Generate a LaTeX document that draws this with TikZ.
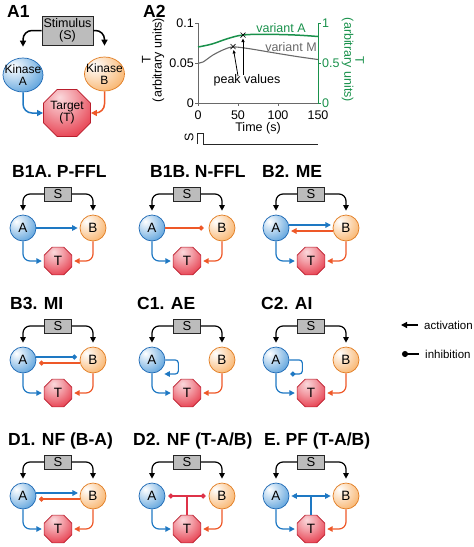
\documentclass[tikz,border=0pt]{standalone}
\usepackage{fontspec}
\setmainfont{Liberation Sans}
\usetikzlibrary{arrows.meta,shapes.geometric,calc}

\definecolor{blueA}{RGB}{45,135,210}
\definecolor{blueAedge}{RGB}{30,105,180}
\definecolor{orangeB}{RGB}{246,150,50}
\definecolor{orangeBedge}{RGB}{225,125,35}
\definecolor{redT}{RGB}{228,40,58}
\definecolor{redTedge}{RGB}{185,30,45}
\definecolor{bluearr}{RGB}{30,120,195}
\definecolor{orgarr}{RGB}{238,88,40}
\definecolor{redarr}{RGB}{222,50,72}
\definecolor{plotgreen}{RGB}{25,145,75}
\definecolor{plotgray}{RGB}{105,105,105}
\definecolor{sgray}{RGB}{188,188,188}

\pgfdeclareradialshading{shadeA}{\pgfpoint{-13bp}{13bp}}{color(0bp)=(white); color(15bp)=(blueA!30!white); color(38bp)=(blueA!78!white); color(52bp)=(blueA); color(100bp)=(blueA)}
\pgfdeclareradialshading{shadeB}{\pgfpoint{-13bp}{13bp}}{color(0bp)=(white); color(15bp)=(orangeB!28!white); color(38bp)=(orangeB!72!white); color(52bp)=(orangeB); color(100bp)=(orangeB)}
\pgfdeclareradialshading{shadeT}{\pgfpoint{-8bp}{17bp}}{color(0bp)=(redT!18!white); color(16bp)=(redT!45!white); color(36bp)=(redT!85!white); color(50bp)=(redT); color(100bp)=(redT)}

\tikzset{
  ttl/.style={font=\fontsize{17.5}{18}\selectfont\bfseries, anchor=west, inner sep=0pt},
  sbox/.style={rectangle, draw=black!85, fill=sgray, line width=0.8pt, minimum width=27pt, minimum height=14pt, inner sep=0pt, font=\fontsize{13}{13}\selectfont},
  nA/.style={circle, draw=blueAedge, line width=0.7pt, shading=shadeA, minimum size=26pt, inner sep=0pt, font=\fontsize{13.5}{13}\selectfont},
  nB/.style={circle, draw=orangeBedge, line width=0.7pt, shading=shadeB, minimum size=26pt, inner sep=0pt, font=\fontsize{13.5}{13}\selectfont},
  nT/.style={regular polygon, regular polygon sides=8, draw=redTedge, line width=0.7pt, shading=shadeT, minimum size=30pt, inner sep=0pt, font=\fontsize{13.5}{13}\selectfont},
  tipA/.style={-{Triangle[length=5.5pt,width=5.5pt]}},
  tipI/.style={-{Circle[length=5pt]}},
  sconn/.style={draw=black, line width=1.2pt, rounded corners=7pt, tipA, shorten >=4pt},
  aconn/.style={draw=bluearr, line width=1.2pt, rounded corners=7pt, tipA, shorten >=2pt},
  bconn/.style={draw=orgarr, line width=1.2pt, rounded corners=7pt, tipA, shorten >=2pt},
  inhblue/.style={draw=bluearr, line width=1.2pt, tipI, shorten >=3pt},
  inhorg/.style={draw=orgarr, line width=1.2pt, tipI, shorten >=3pt},
  kbox/.style={rectangle, draw=black!85, fill=sgray, line width=0.9pt, minimum width=51pt, minimum height=29pt, inner sep=0pt, align=center, font=\fontsize{12.5}{12}\selectfont},
  kinA/.style={ellipse, draw=blueAedge, line width=0.7pt, shading=shadeA, minimum width=40pt, minimum height=34pt, inner xsep=-5pt, inner ysep=0pt, align=center, font=\fontsize{12}{12}\selectfont},
  kinB/.style={kinA, draw=orangeBedge, shading=shadeB},
  targ/.style={regular polygon, regular polygon sides=8, draw=redTedge, line width=0.7pt, shading=shadeT, minimum size=46pt, inner sep=0pt, align=center, font=\fontsize{12}{12}\selectfont},
  bigS/.style={draw=black, line width=1.5pt, rounded corners=9pt, -{Triangle[length=6pt,width=6pt]}, shorten >=11pt},
  bigA/.style={draw=bluearr, line width=1.5pt, rounded corners=9pt, -{Triangle[length=6pt,width=6pt]}},
  bigB/.style={draw=orgarr, line width=1.5pt, rounded corners=9pt, -{Triangle[length=6pt,width=6pt]}},
  tick/.style={font=\fontsize{12.5}{12}\selectfont, inner sep=0pt},
  axlab/.style={font=\fontsize{12.5}{11}\selectfont, align=center, inner sep=0pt},
  legtxt/.style={font=\fontsize{11.5}{12}\selectfont, anchor=west, inner sep=0pt},
}

\newcommand{\motif}[3]{%
  \node[sbox] (#1S) at (#2,#3-34) {S};
  \node[nA] (#1A) at (#2-35,#3) {A};
  \node[nB] (#1B) at (#2+35,#3) {B};
  \node[nT] (#1T) at (#2,#3+33) {T};
  \draw[sconn] (#1S.west) -| (#1A.north);
  \draw[sconn] (#1S.east) -| (#1B.north);
  \draw[aconn] (#1A.south) |- (#1T.west);
  \draw[bconn] (#1B.south) |- (#1T.east);
}

\begin{document}
\begin{tikzpicture}[x=1pt,y=-1pt]
\useasboundingbox (0,0) rectangle (474,547);

% ---------- A1 ----------
\node[ttl] (tA1) at (7,11) {A1};
\node[kbox] (st) at (67.5,30.5) {Stimulus\\(S)};
\node[kinA] (ka) at (23,75) {Kinase\\A};
\node[kinB] (kb) at (104.5,74) {Kinase\\B};
\node[targ] (tg) at (67,113) {Target\\(T)};
\draw[bigS] (st.west) -| (ka.north);
\draw[bigS] (st.east) -| (kb.north);
\draw[bigA] (ka.south) |- (tg.west);
\draw[bigB] (kb.south) |- (tg.east);

% ---------- A2 ----------
\node[ttl] (tA2) at (143,11) {A2};
\draw[plotgray, line width=0.9pt] (198,23) -- (198,103) -- (318,103);
\draw[plotgreen, line width=0.9pt] (318,23) -- (318,103);
\foreach \yy in {23,63,103} {
  \draw[plotgray, line width=0.8pt] (195,\yy) -- (198,\yy);
  \draw[plotgreen, line width=0.8pt] (318,\yy) -- (321,\yy);
}
\foreach \xx in {198,238,278} \draw[plotgray, line width=0.8pt] (\xx,103) -- (\xx,106);
\node[tick, anchor=east] (l01) at (194,23) {0.1};
\node[tick, anchor=east] (l005) at (194,63) {0.05};
\node[tick, anchor=east] (l0) at (194,103) {0};
\node[tick, anchor=west, text=plotgreen] (r1) at (322,23) {1};
\node[tick, anchor=west, text=plotgreen] (r05) at (322,63) {0.5};
\node[tick, anchor=west, text=plotgreen] (r0) at (322,103) {0};
\node[tick] (x0) at (198,115) {0};
\node[tick] (x50) at (238,115) {50};
\node[tick] (x100) at (278,115) {100};
\node[tick] (x150) at (318,115) {150};
\node[tick] (xl) at (258,128) {Time (s)};
\node[axlab, rotate=90] (yll) at (153,60) {T\\(arbitrary units)};
\node[axlab, rotate=-90, text=plotgreen] (ylr) at (353,60) {T\\(arbitrary units)};
\draw[plotgreen, line width=1.5pt] plot[smooth, tension=0.6] coordinates {(198,47) (212,44) (228,38.5) (243,35) (265,34.3) (295,35) (318,36.5)};
\draw[plotgray, line width=1.1pt] plot[smooth, tension=0.6] coordinates {(198,63) (203,62) (213,55) (224,49.5) (233,47) (248,48.5) (275,53) (300,57) (318,59.5)};
\node[tick, text=plotgreen] (vA) at (281,28) {variant A};
\node[tick, text=plotgray] (vM) at (291,47) {variant M};
\coordinate (pk1) at (233,46.5);
\coordinate (pk2) at (243,35);
\draw[black, line width=0.7pt] (230.5,44) -- (235.5,49) (230.5,49) -- (235.5,44);
\draw[black, line width=0.7pt] (240.5,32.5) -- (245.5,37.5) (240.5,37.5) -- (245.5,32.5);
\node[tick] (pv) at (247,80) {peak values};
\draw[line width=0.8pt, -{Triangle[length=3.5pt,width=3pt]}, shorten >=3.5pt] ($(pv.north)+(-9,2)$) -- (pk1);
\draw[line width=0.8pt, -{Triangle[length=3.5pt,width=3pt]}, shorten >=3.5pt] ($(pv.north)+(-4,1)$) -- (pk2);
\node[tick, rotate=90] (sl) at (189,137) {S};
\draw[black!85, line width=0.9pt] (197,144) -- (197,133) -- (203,133) -- (203,144) -- (318,144);

% ---------- titles ----------
\node[ttl] (tB1A) at (12,171) {B1A. P-FFL};
\node[ttl] (tB1B) at (150,171) {B1B. N-FFL};
\node[ttl] (tB2) at (262,171) {B2. ME};
\node[ttl] (tB3) at (10,303) {B3. MI};
\node[ttl] (tC1) at (137,303) {C1. AE};
\node[ttl] (tC2) at (261,303) {C2. AI};
\node[ttl] (tD1) at (8,441) {D1. NF (B-A)};
\node[ttl] (tD2) at (133,441) {D2. NF (T-A/B)};
\node[ttl] (tE) at (264,441) {E. PF (T-A/B)};

% ---------- motifs ----------
\motif{p1}{58}{228}
\draw[aconn] (p1A.east) -- (p1B.west);

\motif{p2}{187}{228}
\draw[inhorg, shorten >=5pt] (p2A.east) -- (p2B.west);

\motif{p3}{311}{228}
\draw[aconn] (p3A.13) -- (p3B.167);
\draw[bconn] (p3B.193) -- (p3A.-13);

\motif{q1}{58}{360}
\draw[inhblue] (q1A.13) -- (q1B.167);
\draw[inhorg] (q1B.193) -- (q1A.-13);

\motif{q2}{187}{360}
\draw[aconn, rounded corners=3pt, shorten >=0pt] (q2A.east) -- ++(13,0) -- ++(0,14) -- ++(-14,0);

\motif{q3}{311}{360}
\draw[inhblue, rounded corners=3pt, shorten >=0pt] (q3A.east) -- ++(13,0) -- ++(0,14) -- ++(-12,0);

\motif{r1}{58}{496}
\draw[aconn] (r1A.13) -- (r1B.167);
\draw[inhorg] (r1B.193) -- (r1A.-13);

\motif{r2}{187}{496}
\coordinate (r2M) at (r2T.north |- r2A.east);
\draw[draw=redarr, line width=1.2pt, {Circle[length=5pt]}-{Circle[length=5pt]}, shorten <=3pt, shorten >=3pt] (r2A.east) -- (r2B.west);
\draw[draw=redarr, line width=1.2pt] (r2T.north) -- (r2M);

\motif{r3}{311}{496}
\coordinate (r3M) at (r3T.north |- r3A.east);
\draw[draw=bluearr, line width=1.2pt, {Triangle[length=5.5pt,width=5.5pt]}-{Triangle[length=5.5pt,width=5.5pt]}, shorten <=2pt, shorten >=2pt] (r3A.east) -- (r3B.west);
\draw[draw=bluearr, line width=1.2pt] (r3T.north) -- (r3M);

% ---------- legend ----------
\node[legtxt] (lgA) at (424,325) {activation};
\coordinate (lgAe) at (401,325);
\draw[line width=1.3pt, -{Triangle[length=6pt,width=6pt]}] ($(lgA.west)+(-6,0)$) -- (lgAe);
\node[legtxt] (lgI) at (425,354) {inhibition};
\coordinate (lgIe) at (402,354);
\draw[line width=1.3pt, -{Circle[length=6pt]}] ($(lgI.west)+(-6,0)$) -- (lgIe);
\end{tikzpicture}
\end{document}
